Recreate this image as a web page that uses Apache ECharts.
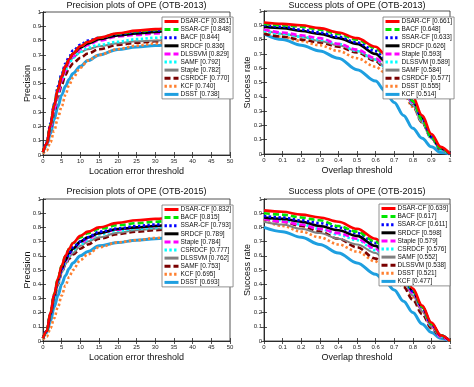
<!DOCTYPE html>
<html><head><meta charset="utf-8">
<script src="https://cdn.jsdelivr.net/npm/echarts@6/dist/echarts.min.js"></script>
<style>html,body{margin:0;padding:0;background:#fff}#c{width:474px;height:387px}</style>
</head><body><div id="c"></div><script>
// ---------- DATA ----------
const precX = [0,1,2,3,4,5,6,7,8,10,12,15,20,25,30,35,40,45,50];
const succX = [0,0.1,0.2,0.3,0.4,0.5,0.6,0.65,0.7,0.75,0.8,0.85,0.9,0.95,1];

const prec2013Names = ['DSAR-CF [0.851]','SSAR-CF [0.848]','BACF [0.844]','SRDCF [0.836]','DLSSVM [0.829]','SAMF [0.792]','Staple [0.782]','CSRDCF [0.770]','KCF [0.740]','DSST [0.738]'];
const prec2013Values = [
  [0.02,0.08,0.21,0.35,0.46,0.55,0.62,0.67,0.71,0.76,0.79,0.82,0.851,0.87,0.88,0.89,0.90,0.905,0.91],
  [0.02,0.08,0.21,0.35,0.46,0.55,0.62,0.67,0.71,0.76,0.79,0.82,0.848,0.865,0.875,0.885,0.89,0.895,0.90],
  [0.02,0.09,0.22,0.36,0.48,0.57,0.64,0.69,0.73,0.77,0.80,0.82,0.844,0.86,0.87,0.875,0.88,0.885,0.89],
  [0.02,0.08,0.21,0.35,0.46,0.55,0.62,0.67,0.71,0.75,0.78,0.81,0.836,0.85,0.86,0.87,0.875,0.88,0.88],
  [0.02,0.07,0.19,0.32,0.43,0.52,0.59,0.65,0.69,0.74,0.77,0.80,0.829,0.84,0.85,0.86,0.865,0.87,0.875],
  [0.02,0.07,0.19,0.32,0.43,0.52,0.59,0.64,0.68,0.72,0.75,0.77,0.792,0.81,0.82,0.83,0.835,0.84,0.85],
  [0.02,0.08,0.20,0.33,0.44,0.53,0.60,0.65,0.68,0.72,0.74,0.76,0.782,0.795,0.80,0.81,0.815,0.82,0.825],
  [0.02,0.07,0.18,0.30,0.41,0.49,0.56,0.61,0.64,0.68,0.71,0.74,0.770,0.785,0.795,0.81,0.82,0.83,0.84],
  [0.01,0.03,0.09,0.17,0.26,0.34,0.42,0.49,0.54,0.61,0.66,0.70,0.740,0.765,0.78,0.795,0.805,0.815,0.83],
  [0.02,0.07,0.15,0.25,0.34,0.42,0.48,0.53,0.57,0.62,0.66,0.70,0.738,0.755,0.765,0.775,0.785,0.795,0.81]
];

const succ2013Names = ['DSAR-CF [0.661]','BACF [0.648]','SSAR-CF [0.633]','SRDCF [0.626]','Staple [0.593]','DLSSVM [0.589]','SAMF [0.584]','CSRDCF [0.577]','DSST [0.555]','KCF [0.514]'];
const succ2013Values = [
  [0.92,0.91,0.90,0.88,0.85,0.81,0.75,0.70,0.62,0.52,0.40,0.27,0.14,0.05,0],
  [0.91,0.90,0.89,0.87,0.84,0.80,0.74,0.69,0.60,0.49,0.37,0.24,0.12,0.04,0],
  [0.90,0.89,0.87,0.85,0.82,0.78,0.72,0.67,0.59,0.49,0.37,0.25,0.12,0.04,0],
  [0.89,0.88,0.86,0.84,0.81,0.77,0.70,0.65,0.58,0.48,0.37,0.25,0.12,0.04,0],
  [0.87,0.85,0.83,0.81,0.77,0.73,0.67,0.62,0.55,0.46,0.36,0.24,0.12,0.04,0],
  [0.86,0.84,0.82,0.80,0.77,0.72,0.66,0.61,0.54,0.45,0.35,0.23,0.11,0.03,0],
  [0.87,0.84,0.82,0.79,0.76,0.72,0.66,0.61,0.54,0.45,0.34,0.22,0.11,0.03,0],
  [0.84,0.82,0.80,0.78,0.75,0.71,0.65,0.60,0.53,0.44,0.34,0.22,0.11,0.03,0],
  [0.85,0.82,0.79,0.76,0.72,0.67,0.61,0.57,0.50,0.42,0.33,0.22,0.11,0.03,0],
  [0.84,0.80,0.76,0.72,0.67,0.59,0.51,0.44,0.36,0.27,0.18,0.11,0.05,0.01,0]
];

const prec2015Names = ['DSAR-CF [0.832]','BACF [0.815]','SSAR-CF [0.793]','SRDCF [0.789]','Staple [0.784]','CSRDCF [0.777]','DLSSVM [0.762]','SAMF [0.753]','KCF [0.695]','DSST [0.693]'];
const prec2015Values = [
  [0.02,0.07,0.20,0.33,0.44,0.53,0.60,0.65,0.69,0.74,0.77,0.80,0.832,0.85,0.86,0.87,0.88,0.89,0.90],
  [0.02,0.07,0.20,0.33,0.44,0.53,0.60,0.65,0.69,0.73,0.76,0.79,0.815,0.83,0.84,0.85,0.855,0.86,0.87],
  [0.02,0.07,0.19,0.32,0.43,0.51,0.58,0.62,0.66,0.70,0.73,0.77,0.793,0.81,0.82,0.83,0.84,0.85,0.86],
  [0.02,0.07,0.19,0.32,0.43,0.51,0.57,0.62,0.65,0.70,0.73,0.76,0.789,0.80,0.81,0.82,0.83,0.84,0.85],
  [0.02,0.07,0.19,0.32,0.42,0.50,0.56,0.61,0.65,0.69,0.72,0.76,0.784,0.80,0.81,0.815,0.82,0.83,0.84],
  [0.02,0.07,0.19,0.31,0.41,0.49,0.55,0.60,0.64,0.68,0.71,0.75,0.777,0.79,0.80,0.81,0.82,0.83,0.84],
  [0.02,0.07,0.18,0.30,0.40,0.48,0.54,0.59,0.62,0.67,0.70,0.73,0.762,0.78,0.79,0.80,0.81,0.82,0.83],
  [0.02,0.07,0.18,0.30,0.40,0.48,0.54,0.58,0.61,0.65,0.68,0.72,0.753,0.77,0.78,0.79,0.80,0.81,0.82],
  [0.01,0.03,0.09,0.16,0.24,0.32,0.39,0.45,0.50,0.57,0.61,0.66,0.695,0.71,0.725,0.735,0.745,0.76,0.78],
  [0.02,0.06,0.14,0.24,0.32,0.40,0.46,0.51,0.55,0.60,0.63,0.67,0.693,0.71,0.72,0.73,0.74,0.75,0.77]
];

const succ2015Names = ['DSAR-CF [0.639]','BACF [0.617]','SSAR-CF [0.611]','SRDCF [0.598]','Staple [0.579]','CSRDCF [0.576]','SAMF [0.552]','DLSSVM [0.538]','DSST [0.521]','KCF [0.477]'];
const succ2015Values = [
  [0.92,0.91,0.89,0.87,0.84,0.79,0.72,0.67,0.59,0.49,0.37,0.25,0.13,0.04,0],
  [0.90,0.89,0.87,0.85,0.81,0.77,0.70,0.65,0.57,0.47,0.36,0.24,0.12,0.04,0],
  [0.88,0.87,0.85,0.83,0.80,0.76,0.69,0.64,0.56,0.46,0.35,0.24,0.12,0.04,0],
  [0.87,0.86,0.84,0.81,0.78,0.74,0.67,0.62,0.55,0.46,0.35,0.24,0.12,0.04,0],
  [0.86,0.84,0.82,0.79,0.76,0.72,0.65,0.60,0.53,0.44,0.34,0.23,0.11,0.03,0],
  [0.87,0.85,0.82,0.79,0.75,0.71,0.64,0.59,0.52,0.44,0.34,0.23,0.11,0.03,0],
  [0.84,0.82,0.79,0.76,0.72,0.68,0.62,0.57,0.50,0.42,0.32,0.21,0.10,0.03,0],
  [0.86,0.84,0.81,0.77,0.72,0.66,0.58,0.53,0.46,0.38,0.29,0.19,0.09,0.03,0],
  [0.85,0.81,0.77,0.73,0.68,0.63,0.56,0.52,0.46,0.39,0.31,0.21,0.10,0.03,0],
  [0.80,0.77,0.73,0.68,0.62,0.55,0.47,0.42,0.36,0.28,0.20,0.12,0.06,0.02,0]
];

const titles = ['Precision plots of OPE (OTB-2013)','Success plots of OPE (OTB-2013)','Precision plots of OPE (OTB-2015)','Success plots of OPE (OTB-2015)'];
const xNames = ['Location error threshold','Overlap threshold','Location error threshold','Overlap threshold'];
const yNames = ['Precision','Success rate','Precision','Success rate'];

// ---------- STYLE (by legend rank) ----------
const rankStyles = [
  {color:'#ff0000', type:'solid', width:2.6},
  {color:'#00e600', type:[6,3], width:2.6},
  {color:'#0000ff', type:[2.4,2.4], width:2.6},
  {color:'#000000', type:'solid', width:2.6},
  {color:'#ff00ff', type:[6,3], width:2.6},
  {color:'#00ffff', type:[2.4,2.4], width:2.6},
  {color:'#808080', type:'solid', width:2},
  {color:'#7a0000', type:[6,3], width:2.6},
  {color:'#ff8030', type:[2.4,2.4], width:2.6},
  {color:'#1e9fe0', type:'solid', width:3}
];

const panels = [
  {x:precX, names:prec2013Names, vals:prec2013Values, max:50, interval:5, grid:{left:43,top:12,width:187,height:143}, legend:{left:162,top:17}},
  {x:succX, names:succ2013Names, vals:succ2013Values, max:1, interval:0.1, grid:{left:264,top:11,width:186,height:143}, legend:{left:383,top:17}},
  {x:precX, names:prec2015Names, vals:prec2015Values, max:50, interval:5, grid:{left:43,top:199,width:187,height:142}, legend:{left:162,top:205}},
  {x:succX, names:succ2015Names, vals:succ2015Values, max:1, interval:0.1, grid:{left:264,top:199,width:186,height:142}, legend:{left:379,top:204}}
];

const AX = '#262626';
const FONT = 'Liberation Sans';
const option = {backgroundColor:'#fff', animation:false, grid:[], xAxis:[], yAxis:[], legend:[], series:[], graphic:[]};

panels.forEach((p, i) => {
  option.grid.push(Object.assign({show:true, borderColor:AX, borderWidth:0.8, backgroundColor:'#fff'}, p.grid));
  const base = {type:'value', gridIndex:i, min:0, splitLine:{show:false},
    axisLine:{show:true, lineStyle:{color:AX, width:0.8}}, axisTick:{show:true, inside:true, length:3, lineStyle:{color:AX, width:0.8}}};
  const xi = option.xAxis.length;
  option.xAxis.push(Object.assign({}, base, {position:'bottom', max:p.max, interval:p.interval,
    axisLabel:{fontSize:6, color:AX, margin:3, fontFamily:FONT},
    name:xNames[i], nameLocation:'middle', nameGap:12, nameMoveOverlap:false,
    nameTextStyle:{fontSize:9, color:'#111', fontFamily:FONT}}));
  option.xAxis.push(Object.assign({}, base, {position:'top', max:p.max, interval:p.interval, axisLabel:{show:false}}));
  const yi = option.yAxis.length;
  option.yAxis.push(Object.assign({}, base, {position:'left', max:1, interval:0.1,
    axisLabel:{fontSize:6, color:AX, margin:2, fontFamily:FONT},
    name:yNames[i], nameLocation:'middle', nameGap:i%2===0?11:12, nameMoveOverlap:false,
    nameTextStyle:{fontSize:9, color:'#111', fontFamily:FONT}}));
  option.yAxis.push(Object.assign({}, base, {position:'right', max:1, interval:0.1, axisLabel:{show:false}}));

  option.legend.push({orient:'vertical', left:p.legend.left, top:p.legend.top, backgroundColor:'#fff',
    borderColor:'#777', borderWidth:0.8, borderRadius:0, padding:[1,2,1,1], itemWidth:14, itemHeight:6.6, itemGap:1.1,
    textStyle:{fontSize:6.5, color:'#111', fontFamily:FONT, padding:[0,0,0,-3]},
    itemStyle:{opacity:0, borderWidth:0}, lineStyle:{width:3, type:'inherit', color:'inherit'},
    data:p.names.slice(), selectedMode:false, z:10});

  // draw lowest ranked first so the top ranked lie on top
  for (let k = p.names.length - 1; k >= 0; k--) {
    const st = rankStyles[k];
    option.series.push({type:'line', name:p.names[k], xAxisIndex:xi, yAxisIndex:yi,
      data:p.x.map((xv, j) => [xv, p.vals[k][j]]), showSymbol:false, symbol:'none', symbolSize:0,
      smooth:0.35, smoothMonotone:'x', color:st.color, itemStyle:{color:st.color},
      lineStyle:{color:st.color, type:st.type, width:st.width}, z:2});
  }

  const g = p.grid;
  option.graphic.push({type:'text', x:g.left + g.width/2, y: i < 2 ? 6 : 192,
    style:{text:titles[i], fill:'#111', font:'9px "' + FONT + '"', textAlign:'center', textVerticalAlign:'middle'}});
});

const chart = echarts.init(document.getElementById('c'), null, {renderer:'canvas'});
chart.setOption(option);
</script></body></html>
